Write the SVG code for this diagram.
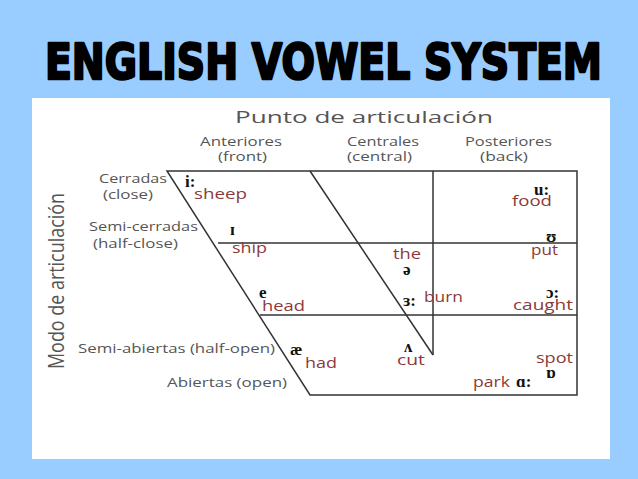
<svg xmlns="http://www.w3.org/2000/svg" width="638" height="479" viewBox="0 0 638 479">
  <style>
    .title{font-family:"DejaVu Sans","Liberation Sans",sans-serif;font-weight:bold;font-size:50px;fill:#000;stroke:#000;stroke-width:2.5;stroke-linejoin:round}
    .lbl{font-family:"Open Sans","Liberation Sans",sans-serif;font-size:12px;fill:#555}
    .word{font-family:"Open Sans","Liberation Sans",sans-serif;font-size:14px;fill:#8b3a3a}
    .ipa{font-family:"Liberation Serif","DejaVu Serif",serif;font-weight:bold;font-size:17px;fill:#111}
    .grid{stroke:#333;stroke-width:1.5;fill:none}
  </style>
  <rect width="638" height="479" fill="#99ccff"/>
  <text class="title" x="45" y="79" textLength="557" lengthAdjust="spacingAndGlyphs">ENGLISH VOWEL SYSTEM</text>
  <rect x="32" y="98" width="578" height="361" fill="#ffffff"/>

  <g id="grid" class="grid">
    <path d="M167,171 H577 V395 H310 Z"/>
    <path d="M218,243 H577"/>
    <path d="M260,315 H577"/>
    <path d="M433,171 V355"/>
    <path d="M310,171 L433,355"/>
  </g>

  <g id="axis-labels">
    <text class="lbl" x="235" y="123" style="font-size:17px" textLength="258" lengthAdjust="spacingAndGlyphs">Punto de articulación</text>
    <text class="lbl" x="64" y="369" transform="rotate(-90 64 369)" style="font-size:22px" textLength="176" lengthAdjust="spacingAndGlyphs">Modo de articulación</text>
  </g>

  <g id="column-labels">
    <text class="lbl" x="200" y="146" textLength="82" lengthAdjust="spacingAndGlyphs">Anteriores</text>
    <text class="lbl" x="218" y="161" textLength="49" lengthAdjust="spacingAndGlyphs">(front)</text>
    <text class="lbl" x="347" y="146" textLength="72" lengthAdjust="spacingAndGlyphs">Centrales</text>
    <text class="lbl" x="347" y="161" textLength="65" lengthAdjust="spacingAndGlyphs">(central)</text>
    <text class="lbl" x="465" y="146" textLength="87" lengthAdjust="spacingAndGlyphs">Posteriores</text>
    <text class="lbl" x="480" y="161" textLength="48" lengthAdjust="spacingAndGlyphs">(back)</text>
  </g>

  <g id="row-labels">
    <text class="lbl" x="99" y="183" textLength="68" lengthAdjust="spacingAndGlyphs">Cerradas</text>
    <text class="lbl" x="103" y="199" textLength="50" lengthAdjust="spacingAndGlyphs">(close)</text>
    <text class="lbl" x="89" y="231" textLength="109" lengthAdjust="spacingAndGlyphs">Semi-cerradas</text>
    <text class="lbl" x="93" y="248" textLength="85" lengthAdjust="spacingAndGlyphs">(half-close)</text>
    <text class="lbl" x="78" y="353" textLength="197" lengthAdjust="spacingAndGlyphs">Semi-abiertas (half-open)</text>
    <text class="lbl" x="167" y="387" textLength="120" lengthAdjust="spacingAndGlyphs">Abiertas (open)</text>
  </g>

  <g id="vowels">
    <g id="v-sheep"><text class="ipa" x="185" y="187">i:</text><text class="word" x="194" y="199" textLength="53" lengthAdjust="spacingAndGlyphs">sheep</text></g>
    <g id="v-ship"><text class="ipa" x="230" y="235">ɪ</text><text class="word" x="232" y="253" textLength="35" lengthAdjust="spacingAndGlyphs">ship</text></g>
    <g id="v-head"><text class="ipa" x="259" y="298">e</text><text class="word" x="262" y="311" textLength="43" lengthAdjust="spacingAndGlyphs">head</text></g>
    <g id="v-had"><text class="ipa" x="290" y="355">æ</text><text class="word" x="305" y="368" textLength="32" lengthAdjust="spacingAndGlyphs">had</text></g>
    <g id="v-the"><text class="word" x="393" y="259" textLength="28" lengthAdjust="spacingAndGlyphs">the</text><text class="ipa" x="403" y="275">ə</text></g>
    <g id="v-burn"><text class="ipa" x="403" y="306">ɜ:</text><text class="word" x="424" y="302" textLength="39" lengthAdjust="spacingAndGlyphs">burn</text></g>
    <g id="v-cut"><text class="ipa" x="404" y="352">ʌ</text><text class="word" x="397" y="365" textLength="28" lengthAdjust="spacingAndGlyphs">cut</text></g>
    <g id="v-food"><text class="ipa" x="534" y="195">u:</text><text class="word" x="512" y="206" textLength="40" lengthAdjust="spacingAndGlyphs">food</text></g>
    <g id="v-put"><text class="ipa" x="546" y="242">ʊ</text><text class="word" x="531" y="255" textLength="27" lengthAdjust="spacingAndGlyphs">put</text></g>
    <g id="v-caught"><text class="ipa" x="546" y="298">ɔ:</text><text class="word" x="513" y="310" textLength="60" lengthAdjust="spacingAndGlyphs">caught</text></g>
    <g id="v-spot"><text class="word" x="536" y="363" textLength="37" lengthAdjust="spacingAndGlyphs">spot</text><text class="ipa" x="546" y="378">ɒ</text></g>
    <g id="v-park"><text class="word" x="473" y="387" textLength="37" lengthAdjust="spacingAndGlyphs">park</text><text class="ipa" x="516" y="387">ɑ:</text></g>
  </g>
</svg>
